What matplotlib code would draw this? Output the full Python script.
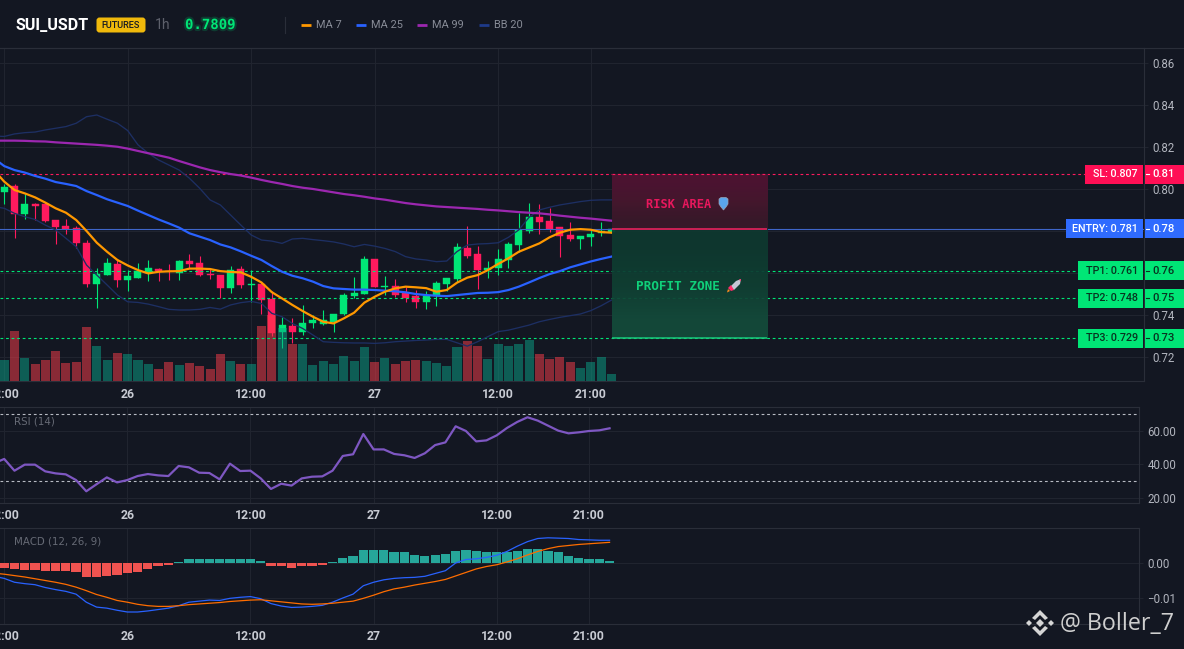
import numpy as np
import matplotlib
matplotlib.use('Agg')
import matplotlib.pyplot as plt
import matplotlib.patheffects as pe
from matplotlib.patches import Rectangle, Polygon, FancyBboxPatch

# hours counted from 26 00:00, one candle per hour
hours = np.arange(-12, 48)
line_hours = np.arange(-13, 48)

opens = [.7986, .8014, .7881, .7930, .7930, .7852, .7824, .7814, .7743, .7548, .7590, .7643, .7567, .7576, .7600,
         .7619, .7611, .7600, .7657, .7648, .7595, .7590, .7529, .7619, .7544, .7548, .7476, .7319, .7348, .7319,
         .7362, .7356, .7365, .7405, .7490, .7500, .7667, .7533, .7538, .7505, .7490, .7462, .7490, .7548, .7571,
         .7719, .7690, .7614, .7624, .7662, .7733, .7800, .7867, .7848, .7819, .7781, .7762, .7771, .7790, .7794]
closes = [.8011, .7881, .7929, .7921, .7848, .7817, .7809, .7743, .7549, .7595, .7648, .7568, .7586, .7609, .7624,
          .7609, .7608, .7657, .7643, .7590, .7589, .7529, .7614, .7543, .7548, .7471, .7314, .7352, .7319, .7362,
          .7376, .7375, .7405, .7495, .7505, .7667, .7533, .7536, .7495, .7481, .7462, .7490, .7552, .7576, .7724,
          .7681, .7614, .7624, .7667, .7738, .7805, .7867, .7843, .7809, .7776, .7762, .7776, .7786, .7800, .7809]
highs = [.8024, .8024, .7975, .7935, .7940, .7852, .7855, .7825, .7757, .7622, .7671, .7667, .7614, .7648, .7662,
         .7622, .7643, .7662, .7690, .7681, .7619, .7590, .7633, .7633, .7614, .7559, .7514, .7390, .7386, .7448,
         .7400, .7424, .7405, .7503, .7581, .7682, .7667, .7586, .7571, .7533, .7519, .7514, .7562, .7576, .7741,
         .7824, .7729, .7657, .7714, .7748, .7886, .7933, .7929, .7909, .7819, .7843, .7776, .7805, .7843, .7809]
lows = [.7929, .7768, .7857, .7852, .7843, .7740, .7786, .7719, .7533, .7435, .7590, .7533, .7514, .7576, .7563,
        .7563, .7567, .7567, .7624, .7586, .7571, .7479, .7505, .7529, .7462, .7405, .7300, .7243, .7267, .7305,
        .7338, .7352, .7319, .7400, .7479, .7500, .7533, .7495, .7486, .7462, .7433, .7429, .7443, .7514, .7559,
        .7671, .7524, .7576, .7590, .7624, .7700, .7790, .7786, .7795, .7676, .7752, .7714, .7729, .7776, .7792]
volumes = [64, 151, 70, 52, 64, 91, 55, 58, 163, 106, 64, 85, 82, 64, 52, 37, 58, 49, 55, 46, 37, 82, 61, 52, 52,
           166, 199, 160, 112, 112, 49, 61, 52, 76, 61, 103, 58, 70, 52, 61, 64, 61, 55, 46, 103, 121, 106, 67,
           112, 106, 112, 124, 82, 67, 73, 58, 40, 58, 73, 22]

ma7 = [.8090, .8035, .7995, .7979, .7960, .7935, .7908, .7887, .7852, .7800, .7744, .7701, .7662, .7636, .7614, .7598,
       .7606, .7608, .7609, .7621, .7621, .7619, .7609, .7605, .7603, .7582, .7555, .7509, .7479, .7448, .7419, .7392,
       .7368, .7360, .7384, .7411, .7459, .7487, .7511, .7527, .7535, .7532, .7528, .7511, .7519, .7554, .7578, .7590,
       .7614, .7643, .7670, .7701, .7721, .7741, .7770, .7792, .7806, .7809, .7806, .7795, .7792]
ma25 = [.8146, .8109, .8090, .8078, .8062, .8049, .8033, .8024, .8014, .7990, .7971, .7951, .7935, .7919, .7897, .7876,
        .7855, .7836, .7816, .7789, .7773, .7757, .7736, .7722, .7703, .7682, .7662, .7633, .7606, .7587, .7575, .7559,
        .7538, .7527, .7524, .7521, .7521, .7519, .7516, .7513, .7508, .7500, .7495, .7492, .7490, .7495, .7500, .7505,
        .7506, .7509, .7519, .7535, .7555, .7576, .7595, .7609, .7627, .7641, .7655, .7667, .7678]
ma99 = [.8230, .8230, .8230, .8229, .8227, .8226, .8222, .8219, .8216, .8213, .8210, .8206, .8201, .8192, .8181, .8170,
        .8160, .8149, .8133, .8118, .8103, .8090, .8080, .8071, .8064, .8054, .8043, .8033, .8024, .8014, .8006, .8000,
        .7992, .7984, .7976, .7970, .7963, .7955, .7949, .7941, .7933, .7927, .7922, .7917, .7914, .7911, .7908, .7905,
        .7901, .7898, .7894, .7890, .7887, .7884, .7879, .7873, .7868, .7863, .7859, .7854, .7849]
bb_upper = [.8252, .8250, .8262, .8268, .8271, .8281, .8289, .8297, .8313, .8344, .8352, .8332, .8313, .8278, .8210,
            .8170, .8138, .8114, .8090, .8051, .8003, .7948, .7924, .7876, .7828, .7781, .7757, .7752, .7741, .7762,
            .7765, .7759, .7754, .7748, .7738, .7725, .7736, .7728, .7717, .7702, .7678, .7667, .7662, .7654, .7657,
            .7702, .7733, .7738, .7740, .7744, .7770, .7805, .7865, .7900, .7913, .7924, .7932, .7940, .7946, .7948,
            .7948]
bb_lower = [.7916, .7908, .7884, .7868, .7855, .7828, .7805, .7765, .7725, .7638, .7590, .7543, .7495, .7463, .7460,
            .7452, .7440, .7427, .7424, .7424, .7427, .7436, .7428, .7448, .7459, .7465, .7455, .7408, .7392, .7360,
            .7336, .7305, .7273, .7270, .7268, .7267, .7267, .7265, .7268, .7273, .7276, .7279, .7281, .7284, .7284,
            .7268, .7252, .7273, .7297, .7321, .7328, .7340, .7352, .7368, .7379, .7389, .7397, .7405, .7421, .7444,
            .7471]

rsi = [40.7, 43.3, 36.3, 39.9, 39.9, 35.9, 34.7, 34.1, 30.7, 24.0, 28.2, 32.3, 29.3, 30.7, 33.1, 34.3, 33.5, 33.1,
       39.1, 38.3, 35.1, 34.9, 31.1, 40.5, 36.1, 36.3, 31.7, 25.4, 28.5, 27.4, 31.7, 32.7, 32.9, 36.3, 45.1, 46.1,
       58.2, 49.0, 49.0, 46.3, 45.5, 43.9, 46.7, 51.6, 53.2, 62.8, 60.0, 53.8, 54.4, 57.4, 61.8, 65.4, 68.2, 66.2,
       63.2, 60.2, 58.6, 59.2, 60.0, 60.4, 61.6]

macd_hist = [-13, -18, -19, -19, -23, -23, -23, -25, -39, -39, -36, -33, -30, -25, -16, -10, -5, 4, 10, 12, 12, 10,
             12, 12, 12, 7, -8, -10, -13, -10, -8, -5, 4, 15, 21, 38, 38, 38, 32, 30, 24, 21, 24, 27, 35, 38, 35,
             30, 30, 32, 35, 41, 41, 35, 30, 21, 15, 12, 10, 7]
macd_line = [-38, -44, -55, -59, -62, -70, -76, -81, -89, -112, -126, -129, -135, -140, -140, -137, -133, -129, -122,
             -112, -109, -106, -107, -101, -98, -96, -102, -116, -123, -127, -126, -124, -121, -112, -100, -89, -65,
             -55, -48, -44, -42, -41, -38, -30, -22, 0, 10, 12, 16, 22, 33, 48, 61, 70, 72, 71, 70, 67, 66, 65, 65]
macd_signal = [-29, -32, -36, -40, -45, -50, -55, -61, -69, -79, -90, -98, -107, -112, -118, -122, -124, -124, -122,
               -119, -117, -115, -113, -110, -108, -106, -105, -108, -111, -114, -117, -118, -117, -115, -112, -109,
               -101, -92, -82, -74, -69, -63, -58, -53, -47, -37, -27, -17, -10, -5, 3, 12, 23, 33, 41, 47, 50, 53,
               55, 57, 59]

tick_hours = [-12, 0, 12, 24, 36, 45]
tick_labels = ['12:00', '26', '12:00', '27', '12:00', '21:00']
price_ticks = [0.72, 0.74, 0.76, 0.78, 0.80, 0.82, 0.84, 0.86]
# 0.76 and 0.78 are covered by the TP1 and ENTRY tags
price_tick_labels = ['0.72', '0.74', '', '', '0.80', '0.82', '0.84', '0.86']

sl_price = 0.807
entry_price = 0.781
tp_prices = [0.761, 0.748, 0.729]

BG = '#131722'
GRID = '#20242f'
GREEN = '#00e676'
RED = '#ff1a5e'
BLUE = '#2962ff'
LABEL = '#b2b5be'

plt.rcParams['font.family'] = ['Roboto', 'DejaVu Sans']

W, H = 1184, 649
fig = plt.figure(figsize=(W / 100, H / 100), dpi=100, facecolor=BG)


def add_ax(left, top, right, bottom):
    return fig.add_axes([left / W, 1 - bottom / H, (right - left) / W, (bottom - top) / H], facecolor=BG)


def style_ax(ax, xlim, ylim, xpad):
    ax.set_xlim(*xlim)
    ax.set_ylim(*ylim)
    ax.set_xticks(tick_hours, tick_labels)
    ax.yaxis.tick_right()
    ax.tick_params(axis='x', length=0, pad=xpad, labelsize=8.8, labelcolor='#c8cbd3')
    ax.tick_params(axis='y', length=3, width=0.72, color=GRID, pad=3, labelsize=8.3, labelcolor=LABEL)
    for label in ax.get_xticklabels():
        label.set_fontweight('bold')
    ax.grid(True, color=GRID, linewidth=0.8)
    ax.set_axisbelow(True)
    ax.spines['left'].set_visible(False)
    for side in ['top', 'bottom', 'right']:
        ax.spines[side].set_color('#2a2e39')
        ax.spines[side].set_linewidth(0.8)


main_xlim = (-12.41, 98.76)
main_ylim = (0.7086, 0.8671)

# candles at the bottom, volume bars over them, lines and zones on top
ax = add_ax(0, 48, 1144, 381)
style_ax(ax, main_xlim, main_ylim, 5)
ax.set_yticks(price_ticks, price_tick_labels)

candle_colors = [GREEN if c >= o else RED for o, c in zip(opens, closes)]
ax.vlines(hours, lows, highs, colors=candle_colors, linewidth=0.8)
ax.bar(hours, np.abs(np.array(closes) - np.array(opens)), bottom=np.minimum(opens, closes), width=0.68,
       color=candle_colors, edgecolor=candle_colors, linewidth=0.3)

ax_vol = add_ax(0, 48, 1144, 381)
ax_vol.patch.set_alpha(0)
ax_vol.axis('off')
ax_vol.set_xlim(*main_xlim)
ax_vol.set_ylim(0, 999)
vol_colors = ['#0ba388' if c >= o else '#ff3d4a' for o, c in zip(opens, closes)]
ax_vol.bar(hours, volumes, width=0.88, color=vol_colors, alpha=0.5)

ax_top = add_ax(0, 48, 1144, 381)
ax_top.patch.set_alpha(0)
ax_top.axis('off')
ax_top.set_xlim(*main_xlim)
ax_top.set_ylim(*main_ylim)

# trade levels
dots = (0, (2.5, 2.5))
ax_top.axhline(sl_price, color=RED, linewidth=0.8, linestyle=dots, zorder=1)
ax_top.axhline(entry_price, color='#3f66c9', linewidth=0.8, zorder=1)
for tp in tp_prices:
    ax_top.axhline(tp, color=GREEN, linewidth=0.8, linestyle=dots, zorder=1)

ax_top.plot(line_hours, bb_upper, color='#1d2f63', linewidth=0.95, zorder=2)
ax_top.plot(line_hours, bb_lower, color='#1d2f63', linewidth=0.95, zorder=2)
ax_top.plot(line_hours, ma99, color='#9c27b0', linewidth=1.6, zorder=3)
ax_top.plot(line_hours, ma25, color=BLUE, linewidth=1.6, zorder=3)
ax_top.plot(line_hours, ma7, color='#ff9800', linewidth=1.6, zorder=3)

# risk and profit zones, with a slight vertical gradient
zone_x = (47.02, 62.1)
risk_grad = np.array([[[0.306, 0.075, 0.196, 0.96]], [[0.28, 0.09, 0.18, 0.96]], [[0.225, 0.10, 0.165, 0.96]]])
profit_grad = np.array([[[0.055, 0.225, 0.19, 0.93]], [[0.06, 0.25, 0.20, 0.93]], [[0.075, 0.295, 0.23, 0.93]]])
ax_top.imshow(risk_grad, extent=(zone_x[0], zone_x[1], entry_price, sl_price), aspect='auto',
              interpolation='bilinear', origin='upper', zorder=4)
ax_top.imshow(profit_grad, extent=(zone_x[0], zone_x[1], tp_prices[2], entry_price), aspect='auto',
              interpolation='bilinear', origin='upper', zorder=4)
ax_top.set_xlim(*main_xlim)
ax_top.set_ylim(*main_ylim)
ax_top.hlines(entry_price, zone_x[0], zone_x[1], color=RED, linewidth=1.1, zorder=5)
ax_top.hlines(tp_prices[2], zone_x[0], zone_x[1], color='#19c97c', linewidth=1.1, zorder=5)
ax_top.hlines(sl_price, zone_x[0], zone_x[1], color=RED, linewidth=0.8, linestyle=dots, zorder=5)

# RSI panel
panel_xlim = (-12.41, 98.6)
ax_rsi = add_ax(0, 407, 1139, 503)
style_ax(ax_rsi, panel_xlim, (17.0, 74.33), 4.5)
ax_rsi.set_yticks([20, 40, 60], ['20.00', '40.00', '60.00'])
ax_rsi.axhline(70, color='#b8bbc4', linewidth=0.8, linestyle=dots)
ax_rsi.axhline(30, color='#b8bbc4', linewidth=0.8, linestyle=dots)
ax_rsi.plot(line_hours, rsi, color='#7e57c2', linewidth=1.6)

# MACD panel
ax_macd = add_ax(0, 528, 1139, 624)
style_ax(ax_macd, panel_xlim, (-0.01743, 0.01), 4)
ax_macd.set_yticks([0, -0.01], ['0.00', '\u22120.01'])
hist = np.array(macd_hist) / 10000
ax_macd.bar(hours, hist, width=0.9, color=['#26a69a' if v >= 0 else '#ef5350' for v in hist])
ax_macd.plot(line_hours, np.array(macd_line) / 10000, color=BLUE, linewidth=0.9)
ax_macd.plot(line_hours, np.array(macd_signal) / 10000, color='#ff6d00', linewidth=0.9)

# overlay in pixel coordinates for header, tags and watermark
ov = fig.add_axes([0, 0, 1, 1])
ov.set_xlim(0, W)
ov.set_ylim(H, 0)
ov.axis('off')
ov.patch.set_alpha(0)


def price_y(p):
    return 63 + (0.86 - p) * 2100


def text(x, y, s, size_px, color, **kw):
    kw.setdefault('va', 'center')
    return ov.text(x, y, s, fontsize=size_px * 0.72, color=color, **kw)


def tag(price, label, left, color, text_color):
    y = price_y(price)
    ov.add_patch(Rectangle((left, y - 9.5), 1143 - left, 19, facecolor=color, edgecolor='none'))
    ov.add_patch(Rectangle((1144.5, y - 9.5), W - 1144.5, 19, facecolor=color, edgecolor='none'))
    ov.plot([1146, 1149], [y, y], color=text_color, linewidth=0.8)
    text(1138, y, label, 10.7, text_color, ha='right', fontweight='medium')
    text(1152.5, y, '%.2f' % price, 11.3, text_color, ha='left', fontweight='medium')


tag(sl_price, 'SL: 0.807', 1085, '#ff0f55', 'white')
tag(entry_price, 'ENTRY: 0.781', 1066, '#2f6bff', 'white')
tag(tp_prices[0], 'TP1: 0.761', 1078, GREEN, '#083320')
tag(tp_prices[1], 'TP2: 0.748', 1078, GREEN, '#083320')
tag(tp_prices[2], 'TP3: 0.729', 1078, GREEN, '#083320')

# header
ov.plot([0, W], [48, 48], color='#2a2e39', linewidth=0.8)
text(16, 25, 'SUI_USDT', 16, 'white', fontweight='bold')
ov.add_patch(FancyBboxPatch((97, 18), 48, 14, boxstyle='round,pad=0.5,rounding_size=3',
                            facecolor='#f0b90b', edgecolor='none'))
text(121, 25.5, 'FUTURES', 9.2, '#131722', ha='center', fontweight='medium')
text(155, 25, '1h', 14, '#5d606b')
text(185, 25, '0.7809', 14, GREEN, family=['DejaVu Sans Mono'], fontweight='bold',
     path_effects=[pe.withStroke(linewidth=3, foreground='#0e3a30')])
ov.plot([285, 285], [17, 33], color='#2a2e39', linewidth=0.8)
legend_items = [('MA 7', 301, '#ff9800'), ('MA 25', 356, BLUE), ('MA 99', 417, '#9c27b0'), ('BB 20', 479, '#1e3a8a')]
for name, x0, col in legend_items:
    ov.plot([x0, x0 + 10], [25, 25], color=col, linewidth=2, solid_capstyle='butt')
    text(x0 + 15, 25, name, 11, '#878b96')

# panel titles
text(14, 421, 'RSI (14)', 10.2, '#666a75', family=['DejaVu Sans'])
text(14, 541, 'MACD (12, 26, 9)', 10.2, '#666a75', family=['DejaVu Sans'])

# zone captions
text(646, 204, 'RISK AREA', 12, '#e8175d', family=['DejaVu Sans Mono'], fontweight='bold')
text(636, 286, 'PROFIT ZONE', 12.6, '#10d07a', family=['DejaVu Sans Mono'], fontweight='bold')
ov.add_patch(Polygon([(719, 199), (721, 197.5), (726, 197.5), (728, 199), (728, 204), (726, 207), (723.5, 210), (721, 207), (719, 204)],
                     facecolor='#5aa5ec', edgecolor='#9aa3b5', linewidth=0.5))
ov.add_patch(Polygon([(730, 287), (736, 281), (741, 279), (740, 284), (734, 290)], facecolor='#c4c6d4', edgecolor='none'))
ov.add_patch(Polygon([(739, 279.5), (741, 279), (740.5, 281.5)], facecolor='#ff2d6a', edgecolor='none'))
ov.add_patch(Polygon([(731, 285), (734, 290), (731, 291), (728, 288)], facecolor='#ff2d6a', edgecolor='none'))
ov.add_patch(Polygon([(728, 289), (730, 291), (727, 292.5)], facecolor='#ff8a1e', edgecolor='none'))

# watermark
cx, cy = 1040, 623
wm = '#d5d5d5'
ov.add_patch(Polygon([(cx, cy - 4), (cx + 4, cy), (cx, cy + 4), (cx - 4, cy)], facecolor=wm, edgecolor='none'))
for px in (-11, 11):
    ov.add_patch(Polygon([(cx + px, cy - 3), (cx + px + 3, cy), (cx + px, cy + 3), (cx + px - 3, cy)],
                         facecolor=wm, edgecolor='none'))
ov.add_patch(Polygon([(cx, cy - 13), (cx + 8, cy - 5), (cx + 5, cy - 3), (cx, cy - 8), (cx - 5, cy - 3), (cx - 8, cy - 5)],
                     facecolor=wm, edgecolor='none'))
ov.add_patch(Polygon([(cx, cy + 13), (cx + 8, cy + 5), (cx + 5, cy + 3), (cx, cy + 8), (cx - 5, cy + 3), (cx - 8, cy + 5)],
                     facecolor=wm, edgecolor='none'))
text(1060, 624, '@ Boller_7', 23.3, '#cfcfcf', family=['Open Sans', 'DejaVu Sans'])

fig.savefig('out.png', dpi=100, facecolor=BG)
